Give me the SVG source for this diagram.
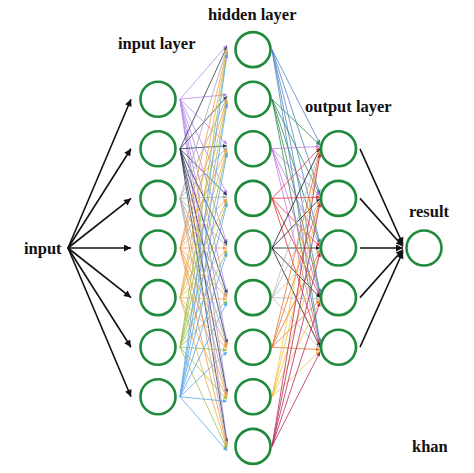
<svg xmlns="http://www.w3.org/2000/svg" width="474" height="473" viewBox="0 0 474 473">
<style>
.node{fill:#fff;stroke:#1f8a3c;stroke-width:2.6}
.lbl{font-family:"Liberation Serif","Times New Roman",serif;font-weight:bold;font-size:16.5px;fill:#111}
.e{fill:none;stroke-width:0.8}
.k{fill:none;stroke:#111;stroke-width:1.6;marker-end:url(#mk)}
.a1{stroke:#b48be6;marker-end:url(#ma1)}
.a2{stroke:#2a3655;marker-end:url(#ma2)}
.a3{stroke:#a8a8a8;marker-end:url(#ma3)}
.a4{stroke:#f29a4a;marker-end:url(#ma4)}
.a5{stroke:#e6b04c;marker-end:url(#ma5)}
.a6{stroke:#9cc04a;marker-end:url(#ma6)}
.a7{stroke:#5ea6ec;marker-end:url(#ma7)}
.b1{stroke:#4f86c6;marker-end:url(#mb1)}
.b2{stroke:#2e8b57;marker-end:url(#mb2)}
.b3{stroke:#c07ae0;marker-end:url(#mb3)}
.b4{stroke:#e0343a;marker-end:url(#mb4)}
.b5{stroke:#1a1a1a;marker-end:url(#mb5)}
.b6{stroke:#b8b8b8;marker-end:url(#mb6)}
.b7{stroke:#e8742c;marker-end:url(#mb7)}
.b8{stroke:#f0c040;marker-end:url(#mb8)}
.b9{stroke:#b8285a;marker-end:url(#mb9)}
</style>
<defs>
<marker id="mk" viewBox="0 0 10 10" refX="10" refY="5" markerWidth="9" markerHeight="7" markerUnits="userSpaceOnUse" orient="auto"><path d="M0 0L10 5L0 10z" fill="#111"/></marker>
<marker id="ma1" viewBox="0 0 10 10" refX="10" refY="5" markerWidth="5" markerHeight="4" markerUnits="userSpaceOnUse" orient="auto"><path d="M0 0L10 5L0 10z" fill="#b48be6"/></marker>
<marker id="ma2" viewBox="0 0 10 10" refX="10" refY="5" markerWidth="5" markerHeight="4" markerUnits="userSpaceOnUse" orient="auto"><path d="M0 0L10 5L0 10z" fill="#2a3655"/></marker>
<marker id="ma3" viewBox="0 0 10 10" refX="10" refY="5" markerWidth="5" markerHeight="4" markerUnits="userSpaceOnUse" orient="auto"><path d="M0 0L10 5L0 10z" fill="#a8a8a8"/></marker>
<marker id="ma4" viewBox="0 0 10 10" refX="10" refY="5" markerWidth="5" markerHeight="4" markerUnits="userSpaceOnUse" orient="auto"><path d="M0 0L10 5L0 10z" fill="#f29a4a"/></marker>
<marker id="ma5" viewBox="0 0 10 10" refX="10" refY="5" markerWidth="5" markerHeight="4" markerUnits="userSpaceOnUse" orient="auto"><path d="M0 0L10 5L0 10z" fill="#e6b04c"/></marker>
<marker id="ma6" viewBox="0 0 10 10" refX="10" refY="5" markerWidth="5" markerHeight="4" markerUnits="userSpaceOnUse" orient="auto"><path d="M0 0L10 5L0 10z" fill="#9cc04a"/></marker>
<marker id="ma7" viewBox="0 0 10 10" refX="10" refY="5" markerWidth="5" markerHeight="4" markerUnits="userSpaceOnUse" orient="auto"><path d="M0 0L10 5L0 10z" fill="#5ea6ec"/></marker>
<marker id="mb1" viewBox="0 0 10 10" refX="10" refY="5" markerWidth="5" markerHeight="4" markerUnits="userSpaceOnUse" orient="auto"><path d="M0 0L10 5L0 10z" fill="#4f86c6"/></marker>
<marker id="mb2" viewBox="0 0 10 10" refX="10" refY="5" markerWidth="5" markerHeight="4" markerUnits="userSpaceOnUse" orient="auto"><path d="M0 0L10 5L0 10z" fill="#2e8b57"/></marker>
<marker id="mb3" viewBox="0 0 10 10" refX="10" refY="5" markerWidth="5" markerHeight="4" markerUnits="userSpaceOnUse" orient="auto"><path d="M0 0L10 5L0 10z" fill="#c07ae0"/></marker>
<marker id="mb4" viewBox="0 0 10 10" refX="10" refY="5" markerWidth="5" markerHeight="4" markerUnits="userSpaceOnUse" orient="auto"><path d="M0 0L10 5L0 10z" fill="#e0343a"/></marker>
<marker id="mb5" viewBox="0 0 10 10" refX="10" refY="5" markerWidth="5" markerHeight="4" markerUnits="userSpaceOnUse" orient="auto"><path d="M0 0L10 5L0 10z" fill="#1a1a1a"/></marker>
<marker id="mb6" viewBox="0 0 10 10" refX="10" refY="5" markerWidth="5" markerHeight="4" markerUnits="userSpaceOnUse" orient="auto"><path d="M0 0L10 5L0 10z" fill="#b8b8b8"/></marker>
<marker id="mb7" viewBox="0 0 10 10" refX="10" refY="5" markerWidth="5" markerHeight="4" markerUnits="userSpaceOnUse" orient="auto"><path d="M0 0L10 5L0 10z" fill="#e8742c"/></marker>
<marker id="mb8" viewBox="0 0 10 10" refX="10" refY="5" markerWidth="5" markerHeight="4" markerUnits="userSpaceOnUse" orient="auto"><path d="M0 0L10 5L0 10z" fill="#f0c040"/></marker>
<marker id="mb9" viewBox="0 0 10 10" refX="10" refY="5" markerWidth="5" markerHeight="4" markerUnits="userSpaceOnUse" orient="auto"><path d="M0 0L10 5L0 10z" fill="#b8285a"/></marker>
</defs>
<rect width="474" height="473" fill="#fff"/>
<g id="connectors">
<g id="input-arrows">
<path class="k" d="M68 248L131 99.2"/>
<path class="k" d="M68 248L131 148.8"/>
<path class="k" d="M68 248L131 198.4"/>
<path class="k" d="M68 248L131 248"/>
<path class="k" d="M68 248L131 297.6"/>
<path class="k" d="M68 248L131 347.2"/>
<path class="k" d="M68 248L131 396.8"/>
</g>
<g id="input-hidden">
<path class="e a1" d="M180 99.2L227 45.1"/><path class="e a1" d="M180 99.2L227 94.7"/><path class="e a1" d="M180 99.2L227 144.3"/><path class="e a1" d="M180 99.2L227 193.9"/><path class="e a1" d="M180 99.2L227 243.5"/><path class="e a1" d="M180 99.2L227 293.1"/><path class="e a1" d="M180 99.2L227 342.7"/><path class="e a1" d="M180 99.2L227 392.3"/><path class="e a1" d="M180 99.2L227 441.9"/>
<path class="e a2" d="M180 148.8L227 46.6"/><path class="e a2" d="M180 148.8L227 96.2"/><path class="e a2" d="M180 148.8L227 145.8"/><path class="e a2" d="M180 148.8L227 195.4"/><path class="e a2" d="M180 148.8L227 245"/><path class="e a2" d="M180 148.8L227 294.6"/><path class="e a2" d="M180 148.8L227 344.2"/><path class="e a2" d="M180 148.8L227 393.8"/><path class="e a2" d="M180 148.8L227 443.4"/>
<path class="e a3" d="M180 198.4L227 48.1"/><path class="e a3" d="M180 198.4L227 97.7"/><path class="e a3" d="M180 198.4L227 147.3"/><path class="e a3" d="M180 198.4L227 196.9"/><path class="e a3" d="M180 198.4L227 246.5"/><path class="e a3" d="M180 198.4L227 296.1"/><path class="e a3" d="M180 198.4L227 345.7"/><path class="e a3" d="M180 198.4L227 395.3"/><path class="e a3" d="M180 198.4L227 444.9"/>
<path class="e a4" d="M180 248L227 49.6"/><path class="e a4" d="M180 248L227 99.2"/><path class="e a4" d="M180 248L227 148.8"/><path class="e a4" d="M180 248L227 198.4"/><path class="e a4" d="M180 248L227 248"/><path class="e a4" d="M180 248L227 297.6"/><path class="e a4" d="M180 248L227 347.2"/><path class="e a4" d="M180 248L227 396.8"/><path class="e a4" d="M180 248L227 446.4"/>
<path class="e a5" d="M180 297.6L227 51.1"/><path class="e a5" d="M180 297.6L227 100.7"/><path class="e a5" d="M180 297.6L227 150.3"/><path class="e a5" d="M180 297.6L227 199.9"/><path class="e a5" d="M180 297.6L227 249.5"/><path class="e a5" d="M180 297.6L227 299.1"/><path class="e a5" d="M180 297.6L227 348.7"/><path class="e a5" d="M180 297.6L227 398.3"/><path class="e a5" d="M180 297.6L227 447.9"/>
<path class="e a6" d="M180 347.2L227 52.6"/><path class="e a6" d="M180 347.2L227 102.2"/><path class="e a6" d="M180 347.2L227 151.8"/><path class="e a6" d="M180 347.2L227 201.4"/><path class="e a6" d="M180 347.2L227 251"/><path class="e a6" d="M180 347.2L227 300.6"/><path class="e a6" d="M180 347.2L227 350.2"/><path class="e a6" d="M180 347.2L227 399.8"/><path class="e a6" d="M180 347.2L227 449.4"/>
<path class="e a7" d="M180 396.8L227 54.1"/><path class="e a7" d="M180 396.8L227 103.7"/><path class="e a7" d="M180 396.8L227 153.3"/><path class="e a7" d="M180 396.8L227 202.9"/><path class="e a7" d="M180 396.8L227 252.5"/><path class="e a7" d="M180 396.8L227 302.1"/><path class="e a7" d="M180 396.8L227 351.7"/><path class="e a7" d="M180 396.8L227 401.3"/><path class="e a7" d="M180 396.8L227 450.9"/>
</g>
<g id="hidden-output">
<path class="e b1" d="M272 49.6L320 144"/><path class="e b1" d="M272 49.6L320 193.6"/><path class="e b1" d="M272 49.6L320 243.2"/><path class="e b1" d="M272 49.6L320 292.8"/><path class="e b1" d="M272 49.6L320 342.4"/>
<path class="e b2" d="M272 99.2L320 145.2"/><path class="e b2" d="M272 99.2L320 194.8"/><path class="e b2" d="M272 99.2L320 244.4"/><path class="e b2" d="M272 99.2L320 294"/><path class="e b2" d="M272 99.2L320 343.6"/>
<path class="e b3" d="M272 148.8L320 146.4"/><path class="e b3" d="M272 148.8L320 196"/><path class="e b3" d="M272 148.8L320 245.6"/><path class="e b3" d="M272 148.8L320 295.2"/><path class="e b3" d="M272 148.8L320 344.8"/>
<path class="e b4" d="M272 198.4L320 147.6"/><path class="e b4" d="M272 198.4L320 197.2"/><path class="e b4" d="M272 198.4L320 246.8"/><path class="e b4" d="M272 198.4L320 296.4"/><path class="e b4" d="M272 198.4L320 346"/>
<path class="e b5" d="M272 248L320 148.8"/><path class="e b5" d="M272 248L320 198.4"/><path class="e b5" d="M272 248L320 248"/><path class="e b5" d="M272 248L320 297.6"/><path class="e b5" d="M272 248L320 347.2"/>
<path class="e b6" d="M272 297.6L320 150"/><path class="e b6" d="M272 297.6L320 199.6"/><path class="e b6" d="M272 297.6L320 249.2"/><path class="e b6" d="M272 297.6L320 298.8"/><path class="e b6" d="M272 297.6L320 348.4"/>
<path class="e b7" d="M272 347.2L320 151.2"/><path class="e b7" d="M272 347.2L320 200.8"/><path class="e b7" d="M272 347.2L320 250.4"/><path class="e b7" d="M272 347.2L320 300"/><path class="e b7" d="M272 347.2L320 349.6"/>
<path class="e b8" d="M272 396.8L320 152.4"/><path class="e b8" d="M272 396.8L320 202"/><path class="e b8" d="M272 396.8L320 251.6"/><path class="e b8" d="M272 396.8L320 301.2"/><path class="e b8" d="M272 396.8L320 350.8"/>
<path class="e b9" d="M272 446.4L320 153.6"/><path class="e b9" d="M272 446.4L320 203.2"/><path class="e b9" d="M272 446.4L320 252.8"/><path class="e b9" d="M272 446.4L320 302.4"/><path class="e b9" d="M272 446.4L320 352"/>
</g>
<g id="output-result">
<path class="k" d="M360 148.8L403 244.5"/>
<path class="k" d="M360 198.4L403 246.5"/>
<path class="k" d="M360 248L403 248"/>
<path class="k" d="M360 297.6L403 249.5"/>
<path class="k" d="M360 347.2L403 251.5"/>
</g>
</g>
<g id="input-layer">
<g id="in1"><circle class="node" cx="158" cy="99.2" r="17.5"/></g>
<g id="in2"><circle class="node" cx="158" cy="148.8" r="17.5"/></g>
<g id="in3"><circle class="node" cx="158" cy="198.4" r="17.5"/></g>
<g id="in4"><circle class="node" cx="158" cy="248" r="17.5"/></g>
<g id="in5"><circle class="node" cx="158" cy="297.6" r="17.5"/></g>
<g id="in6"><circle class="node" cx="158" cy="347.2" r="17.5"/></g>
<g id="in7"><circle class="node" cx="158" cy="396.8" r="17.5"/></g>
</g>
<g id="hidden-layer">
<g id="h1"><circle class="node" cx="253" cy="49.6" r="17.5"/></g>
<g id="h2"><circle class="node" cx="253" cy="99.2" r="17.5"/></g>
<g id="h3"><circle class="node" cx="253" cy="148.8" r="17.5"/></g>
<g id="h4"><circle class="node" cx="253" cy="198.4" r="17.5"/></g>
<g id="h5"><circle class="node" cx="253" cy="248" r="17.5"/></g>
<g id="h6"><circle class="node" cx="253" cy="297.6" r="17.5"/></g>
<g id="h7"><circle class="node" cx="253" cy="347.2" r="17.5"/></g>
<g id="h8"><circle class="node" cx="253" cy="396.8" r="17.5"/></g>
<g id="h9"><circle class="node" cx="253" cy="446.4" r="17.5"/></g>
</g>
<g id="output-layer">
<g id="o1"><circle class="node" cx="338.5" cy="148.8" r="17.5"/></g>
<g id="o2"><circle class="node" cx="338.5" cy="198.4" r="17.5"/></g>
<g id="o3"><circle class="node" cx="338.5" cy="248" r="17.5"/></g>
<g id="o4"><circle class="node" cx="338.5" cy="297.6" r="17.5"/></g>
<g id="o5"><circle class="node" cx="338.5" cy="347.2" r="17.5"/></g>
</g>
<g id="result"><circle class="node" cx="424" cy="248" r="17.5"/></g>
<g id="labels">
<text class="lbl" x="208" y="20">hidden layer</text>
<text class="lbl" x="118" y="48.5">input layer</text>
<text class="lbl" x="305" y="111.5">output layer</text>
<text class="lbl" x="409" y="217">result</text>
<text class="lbl" x="24" y="254">input</text>
<text class="lbl" x="412" y="452">khan</text>
</g>
</svg>
